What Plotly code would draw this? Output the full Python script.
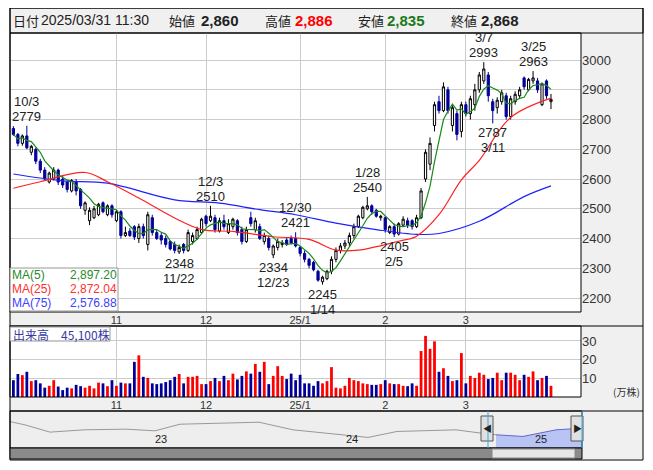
import plotly.graph_objects as go
import pandas as pd

W, H = 653, 470
OFF = 8  # browser body margin
def px(x): return (x - OFF) / W
def py(y): return 1 - (y - OFF) / H

# ---- data (index 0 = 2024/9/30 ... 120 = 2025/3/31) ----
opens = [2770,2750,2720,2745,2690,2700,2660,2630,2590,2600,2630,2600,2590,2560,2590,2565,2495,2460,2470,2480,2520,2480,2510,
         2460,2490,2410,2425,2440,2400,2440,2380,2470,2420,2410,2400,2390,2380,2355,2380,2360,2390,2400,2420,
         2475,2460,2470,2425,2460,2420,2440,2460,2430,2390,2470,2430,2440,2390,2400,2345,2370,2380,2395,2400,2400,
         2370,2350,2330,2320,2290,2255,2265,2290,2330,2360,2375,2385,2410,2440,2470,2500,2510,2495,2470,
         2470,2420,2440,2415,2445,2460,2460,2440,2470,2600,2650,2780,2860,2830,2900,2780,2820,2760,
         2850,2820,2850,2900,2930,2950,2860,2840,2860,2880,2810,2860,2880,2940,2900,2930,2930,2850,2930,2860]
highs = [2778,2755,2750,2779,2715,2705,2668,2640,2625,2640,2635,2610,2595,2600,2600,2570,2525,2505,2510,2520,2525,2515,2515,
         2495,2495,2440,2435,2445,2450,2450,2490,2480,2430,2420,2410,2395,2390,2380,2385,2430,2420,2440,2470,
         2480,2510,2480,2470,2480,2465,2470,2465,2440,2440,2490,2470,2450,2420,2410,2380,2400,2395,2405,2410,2421,
         2375,2360,2335,2325,2295,2275,2295,2340,2370,2385,2395,2420,2450,2480,2510,2540,2515,2500,2480,
         2475,2445,2450,2455,2475,2470,2465,2480,2570,2700,2740,2860,2880,2925,2910,2850,2830,2860,
         2860,2880,2920,2960,2993,2960,2870,2875,2900,2890,2880,2895,2910,2945,2940,2963,2940,2925,2935,2886]
lows = [2745,2710,2712,2700,2680,2650,2620,2595,2585,2595,2580,2570,2555,2555,2545,2500,2480,2445,2465,2475,2485,2475,2470,
        2455,2400,2405,2405,2395,2385,2400,2360,2410,2395,2380,2370,2360,2350,2348,2350,2355,2380,2395,2415,
        2440,2455,2420,2420,2430,2415,2430,2410,2380,2385,2440,2420,2395,2380,2360,2334,2360,2370,2375,2380,2370,
        2340,2320,2300,2290,2255,2245,2260,2280,2320,2350,2365,2375,2400,2435,2465,2495,2480,2470,2460,
        2420,2415,2405,2410,2440,2435,2430,2435,2465,2590,2630,2760,2820,2825,2820,2760,2730,2740,
        2810,2800,2830,2890,2920,2860,2787,2820,2850,2800,2800,2850,2870,2900,2895,2920,2890,2845,2870,2835]
closes = [2750,2720,2745,2705,2710,2660,2630,2600,2620,2630,2590,2580,2565,2595,2560,2510,2520,2495,2500,2515,2490,2510,2480,
          2490,2410,2420,2410,2405,2440,2410,2480,2420,2400,2395,2380,2365,2360,2370,2360,2420,2410,2430,2465,
          2450,2475,2430,2460,2440,2450,2465,2420,2390,2430,2450,2460,2400,2410,2370,2375,2390,2385,2380,2385,2375,
          2350,2330,2310,2295,2260,2270,2290,2330,2360,2375,2385,2410,2440,2475,2505,2510,2490,2475,2475,
          2430,2440,2415,2450,2465,2445,2440,2470,2560,2690,2720,2850,2830,2910,2830,2840,2750,2850,
          2820,2870,2900,2950,2970,2880,2830,2865,2890,2810,2870,2885,2900,2910,2935,2940,2900,2920,2880,2868]
volumes = [9,12.3,11.7,13.5,8.5,9,7.3,5,6,9,5.6,3.7,5,4.6,6.5,5.8,5,6,4.6,7.7,7.3,5.8,9,
           6,7.7,7.3,7.3,18.8,22.3,10.8,10.2,7.3,6.9,7.3,8,9,10.8,12.3,7.3,10.8,10.8,11.3,6.9,
           6.9,8.5,10.2,8.5,11.3,9,12.5,9.4,11.3,13.7,12.5,17.7,13.5,18.8,6.9,11.3,16.5,11.3,9.6,12.5,9,
           11.9,7.3,7.3,6,8.5,7.3,8.5,16,5,4.6,6,10.2,9,8.5,7.3,6.9,6.5,6.5,6.9,
           9,7.3,6.9,6.9,6,5.8,7.3,6,24.6,32.7,25.8,29.8,13.5,15.4,11.3,8.5,9,23.5,
           7.3,11.3,10.2,13,11.9,9.6,10.2,13,9,13,13,11.9,9,11.9,10.8,13.7,9,10.2,11.3,6]
ma25_idx = [0,6,16,21,28,36,42,49,58,66,72,77,86,90,95,100,104,111,120]
ma25_val = [2569,2591,2622,2591,2536,2469,2430,2424,2406,2397,2361,2361,2391,2408,2480,2597,2663,2807,2872]
ma75_idx = [0,11,21,36,46,55,63,72,81,90,95,104,114,120]
ma75_val = [2617,2594,2586,2530,2519,2497,2480,2452,2430,2414,2417,2458,2541,2577]
month_idx = [23,43,64,83,101]
month_lbl = ["11","12","25/1","2","3"]
marks = [(3,"10/3",2779,"h"),(37,"11/22",2348,"l"),(44,"12/3",2510,"h"),(58,"12/23",2334,"l"),
         (63,"12/30",2421,"h"),(69,"1/14",2245,"l"),(79,"1/28",2540,"h"),(85,"2/5",2405,"l"),
         (105,"3/7",2993,"h"),(107,"3/11",2787,"l"),(116,"3/25",2963,"h")]
nav_x = [10,25,50,84,126,155,180,218,259,293,347,368,397,431,456,481,496,523,556,582]
nav_v = [80,70,48,55,57,52,72,75,78,55,38,32,50,52,55,45,40,35,55,60]

x = list(range(len(closes)))
ma5 = pd.Series(closes).rolling(5, min_periods=1).mean()
FONT = "Noto Sans CJK JP"
LAT = "Liberation Sans"
NAVY = "#000099"

fig = go.Figure()
fig.add_trace(go.Candlestick(x=x, open=opens, high=highs, low=lows, close=closes,
    increasing=dict(line=dict(color="#000000", width=1), fillcolor="#ffffff"),
    decreasing=dict(line=dict(color=NAVY, width=1), fillcolor=NAVY),
    whiskerwidth=0, showlegend=False, hoverinfo="skip"))
fig.add_trace(go.Scatter(x=ma75_idx, y=ma75_val, mode="lines", line=dict(color="#2020ff", width=1.2, shape="spline"), hoverinfo="skip"))
fig.add_trace(go.Scatter(x=ma25_idx, y=ma25_val, mode="lines", line=dict(color="#ff2020", width=1.2, shape="spline"), hoverinfo="skip"))
fig.add_trace(go.Scatter(x=x, y=ma5, mode="lines", line=dict(color="#1a8a1a", width=1.2), hoverinfo="skip"))
vcol = ["#ff0000" if c >= o else "#000099" for o, c in zip(opens, closes)]
fig.add_trace(go.Bar(x=x, y=volumes, marker=dict(color=vcol, line=dict(width=0)), width=0.62,
                     xaxis="x2", yaxis="y2", hoverinfo="skip"))
nx = [(v - 10) / 572 for v in nav_x]
cut = 16
fig.add_trace(go.Scatter(x=nx[:cut+1], y=nav_v[:cut+1], mode="lines", line=dict(color="#999999", width=1),
                         xaxis="x3", yaxis="y3", hoverinfo="skip"))
fig.add_trace(go.Scatter(x=nx[cut:], y=nav_v[cut:], mode="lines", line=dict(color="#6666cc", width=1),
                         fill="tozeroy", fillcolor="#b8c4f4", xaxis="x3", yaxis="y3", hoverinfo="skip"))

xr = [-0.76, 126.7]
grid = "#cccccc"
tf = dict(family=LAT, size=11, color="#333")
fig.update_layout(
    width=W, height=H, margin=dict(l=0, r=0, t=0, b=0), showlegend=False,
    paper_bgcolor="white", plot_bgcolor="white",
    xaxis=dict(domain=[px(10), px(581)], range=xr, tickvals=month_idx, ticktext=month_lbl, showgrid=True,
               gridcolor=grid, ticks="", tickfont=tf, rangeslider=dict(visible=False), zeroline=False,
               ticklabelstandoff=0, anchor="y"),
    yaxis=dict(domain=[py(312), py(33)], range=[2153, 3091], side="right", tickvals=list(range(2200, 3001, 100)),
               gridcolor=grid, tickfont=dict(family=LAT, size=13, color="#333"), zeroline=False, ticks="", anchor="x"),
    xaxis2=dict(domain=[px(10), px(581)], range=xr, tickvals=month_idx, ticktext=month_lbl, showgrid=True,
                gridcolor=grid, ticks="", tickfont=tf, zeroline=False, anchor="y2", ticklabelstandoff=0),
    yaxis2=dict(domain=[py(397), py(326)], range=[0, 38], side="right", tickvals=[10, 20, 30], gridcolor=grid,
                tickfont=dict(family=LAT, size=13, color="#333"), zeroline=False, ticks="", anchor="x2"),
    xaxis3=dict(domain=[px(10), px(582)], range=[0, 1], showgrid=False, showticklabels=False, zeroline=False, anchor="y3"),
    yaxis3=dict(domain=[py(448), py(411)], range=[0, 112], showgrid=False, showticklabels=False, zeroline=False, anchor="x3"),
)

shapes = []
def rect(x0, y0, x1, y1, fill=None, line="#000", lw=1, layer="above"):
    shapes.append(dict(type="rect", xref="paper", yref="paper", x0=px(x0), x1=px(x1), y0=py(y1), y1=py(y0),
                       fillcolor=fill, line=dict(color=line, width=lw), layer=layer))
NOL = "rgba(0,0,0,0)"
rect(581, 33, 643, 397, fill="#f0f0f0", line=NOL, lw=0, layer="below")
rect(10, 312, 643, 326, fill="#f0f0f0", line=NOL, lw=0, layer="below")
rect(10, 397, 643, 411, fill="#f0f0f0", line=NOL, lw=0, layer="below")
rect(582, 411, 643, 459, fill="#f0f0f0", line=NOL, lw=0, layer="below")
rect(10, 8, 643, 33, fill="#f0f0f0", line="#000", lw=1, layer="below")
rect(10, 411, 582, 448, fill="#eeeeee", line=NOL, lw=0, layer="below")
rect(10, 33, 581, 312, line="#000")
rect(10, 326, 581, 397, line="#000")
rect(10, 411, 582, 448, line="#000")
rect(10, 8, 643, 460, line="#000")
for yy in (326, 411):
    shapes.append(dict(type="line", xref="paper", yref="paper", x0=px(10), x1=px(643), y0=py(yy), y1=py(yy), line=dict(color="#000", width=1)))
rect(10, 448, 582, 459, fill="#8a8a8a", line="#000")
rect(492, 449, 575, 458, fill="#e6e6e6", line="#888")
rect(481, 416, 493, 441, fill="#e0e0e0", line="#555")
rect(571, 416, 583, 441, fill="#e0e0e0", line="#555")
for xx in (488, 582):
    shapes.append(dict(type="line", xref="paper", yref="paper", x0=px(xx), x1=px(xx), y0=py(411), y1=py(448), line=dict(color="#33aadd", width=1)))
rect(10, 268, 118, 311, fill="rgba(255,255,255,0.85)", line="#999")
rect(10, 327, 110, 341, fill="rgba(255,255,255,0.85)", line="#999")
fig.update_layout(shapes=shapes)

ann = []
def txt(xp, yp, s, color="#222", size=13, anchor="left", bold=False, fam=FONT):
    ann.append(dict(xref="paper", yref="paper", x=px(xp), y=py(yp), text=("<b>%s</b>" % s) if bold else s,
                    showarrow=False, xanchor=anchor, yanchor="middle", borderpad=0,
                    font=dict(family=fam, size=size, color=color)))
txt(12, 20, "日付")
txt(40, 20, "2025/03/31 11:30", fam=LAT, size=14)
txt(168, 20, "始値")
txt(200, 20, "2,860", bold=True, size=15, fam=LAT)
txt(264, 20, "高値")
txt(294, 20, "2,886", color="#ff0000", bold=True, size=15, fam=LAT)
txt(357, 20, "安値")
txt(386, 20, "2,835", color="#1a7a1a", bold=True, size=15, fam=LAT)
txt(450, 20, "終値")
txt(480, 20, "2,868", bold=True, size=15, fam=LAT)
for i, (nm, val, col) in enumerate([("MA(5)", "2,897.20", "#2a8a2a"), ("MA(25)", "2,872.04", "#ff3030"), ("MA(75)", "2,576.88", "#4040ff")]):
    txt(11, 275 + 14 * i, nm, color=col, size=12, fam=LAT)
    txt(118, 275 + 14 * i, val, color=col, size=12, anchor="right", fam=LAT)
txt(12, 334, "出来高　45,100株", color="#3a3aa0", size=12)
txt(641, 391, "(万株)", color="#333", size=10, anchor="right")
for xp, s in [(161, "23"), (352, "24"), (541, "25")]:
    txt(xp, 439, s, size=11, anchor="center", fam=LAT)
txt(487, 428, "◀", size=9, anchor="center")
txt(577, 428, "▶", size=9, anchor="center")
for i, d, v, k in marks:
    hi = k == "h"
    for j, t in enumerate((str(v), d)):
        ann.append(dict(x=i, y=v, xref="x", yref="y", text=t, showarrow=False, xanchor="center",
                        yanchor="bottom" if hi else "top", yshift=(1 + 15 * j) if hi else -(1 + 15 * j),
                        borderpad=0, font=dict(family=LAT, size=13, color="#222")))
fig.update_layout(annotations=ann)
fig.write_html("out.html")
